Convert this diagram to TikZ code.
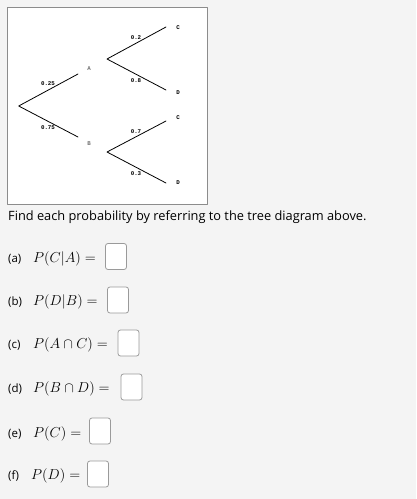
\documentclass[tikz,border=0pt]{standalone}
\usepackage{fontspec}
\setmainfont{Open Sans}
\newfontfamily\treefont{Liberation Mono}
\definecolor{pagegray}{HTML}{F4F4F4}
\definecolor{framegray}{HTML}{8C8C8C}
\definecolor{boxgray}{HTML}{9A9A9A}
\definecolor{evgray}{HTML}{707070}
\begin{document}
\begin{tikzpicture}[x=1pt,y=-1pt,line join=round,line cap=round,
    branch/.style={line width=.8pt},
    prob/.style={font=\treefont\fontsize{5.8}{6}\selectfont\bfseries,inner sep=0pt},
    event/.style={font=\treefont\fontsize{5.8}{6}\selectfont\bfseries,inner sep=0pt},
    qlabel/.style={anchor=base west,inner sep=0pt,font=\fontsize{11.5}{13}\selectfont},
    qmath/.style={anchor=base west,inner sep=0pt,font=\fontsize{15.4}{18}\selectfont},
    ansbox/.style={draw=boxgray,fill=white,rounded corners=2.5pt,line width=.8pt,minimum width=21pt,minimum height=26pt,inner sep=0pt}]
    % page and frame
    \fill[pagegray] (0,0) rectangle (416,499);
    \useasboundingbox (0,0) rectangle (416,499);
    \draw[framegray,fill=white,line width=.8pt] (7,7) rectangle (207,204);
    % tree
    \coordinate (root) at (18.7,106);
    \coordinate (toA) at (78,74);
    \coordinate (toB) at (78,137);
    \coordinate (fromA) at (107,59);
    \coordinate (fromB) at (107,152);
    \coordinate (AC) at (166,27);
    \coordinate (AD) at (166,90);
    \coordinate (BC) at (166,121);
    \coordinate (BD) at (166,183);
    \node[event,evgray] (A) at (89,69) {A};
    \node[event,evgray] (B) at (89,144) {B};
    \node[event] (C1) at (178,28) {C};
    \node[event] (D1) at (178,93) {D};
    \node[event] (C2) at (178,118) {C};
    \node[event] (D2) at (178,183) {D};
    \draw[branch] (toA)--(root)--(toB);
    \draw[branch] (AC)--(fromA)--(AD);
    \draw[branch] (BC)--(fromB)--(BD);
    \node[prob] (pA) at (48,84) {0.25};
    \node[prob] (pB) at (48,128) {0.75};
    \node[prob] (pAC) at (136,38) {0.2};
    \node[prob] (pAD) at (136,81) {0.8};
    \node[prob] (pBC) at (136,132) {0.7};
    \node[prob] (pBD) at (136,174) {0.3};
    % questions
    \node[anchor=base west,inner sep=0pt,font=\fontsize{12.8}{15}\selectfont] (intro) at (8,220) {Find each probability by referring to the tree diagram above.};
    \node[qlabel] (la) at (8,262) {(a)};
    \node[qmath] (ma) at (33,262) {$P(C|A)=$};
    \node[ansbox] (ba) at (116,256.5) {};
    \node[qlabel] (lb) at (8,305) {(b)};
    \node[qmath] (mb) at (33,305) {$P(D|B)=$};
    \node[ansbox] (bb) at (118,300) {};
    \node[qlabel] (lc) at (8,348) {(c)};
    \node[qmath] (mc) at (33,348) {$P(A\cap C)=$};
    \node[ansbox] (bc) at (128.5,343) {};
    \node[qlabel] (ld) at (8,392) {(d)};
    \node[qmath] (md) at (33,392) {$P(B\cap D)=$};
    \node[ansbox] (bd) at (131.5,387) {};
    \node[qlabel] (le) at (8,437) {(e)};
    \node[qmath] (me) at (33,437) {$P(C)=$};
    \node[ansbox] (be) at (100,431) {};
    \node[qlabel] (lf) at (8,479) {(f)};
    \node[qmath] (mf) at (31,479) {$P(D)=$};
    \node[ansbox] (bf) at (98,474) {};
\end{tikzpicture}
\end{document}
